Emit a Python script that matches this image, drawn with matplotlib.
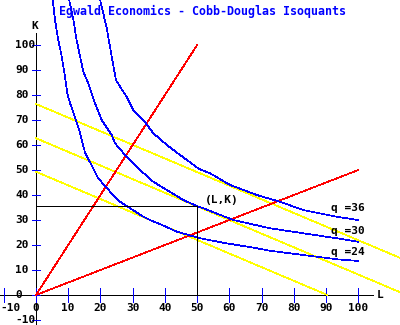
import matplotlib.pyplot as plt

# isoquants, points (L, K)
q24_L = [5.2, 5.9, 6.9, 8.0, 9.0, 9.7, 10.5, 12.4, 13.7, 15.2, 16.8, 19.3, 23.0, 26.1,
         29.2, 33.3, 35.4, 39.3, 43.7, 50.9, 58.1, 68.5, 72.6, 82.9, 93.3, 100]
q24_K = [118, 110, 102, 95.3, 87.3, 80.7, 77, 70, 64.7, 57, 53, 46.7, 41.3, 37.3,
         34.7, 31.3, 30, 27.9, 25.3, 22.7, 20.9, 18.7, 17.7, 16, 14.3, 13.6]

q30_L = [10.3, 11.6, 12.6, 13.9, 14.7, 16.2, 17.8, 18.3, 20.4, 23.5, 24.5, 28.1, 32.3,
         36.4, 40.6, 45.7, 50, 51.9, 61.2, 72.6, 82.9, 93.3, 100]
q30_K = [118, 110, 102, 94, 89.3, 84.7, 78.7, 76.7, 70, 64, 60.7, 55.3, 50,
         45.3, 42, 38, 35.5, 34.7, 30, 26.7, 24.7, 22.7, 21.3]

q36_L = [19.9, 21.9, 23.5, 24.8, 26.1, 28.1, 30.2, 33.3, 36.4, 40.6, 44.7, 50.5, 54,
         60.2, 68.5, 75.7, 82.9, 93.3, 100]
q36_K = [118, 107, 95.3, 86, 83.3, 79.3, 74, 70, 64.7, 60, 56, 50.5, 48.7,
         44, 40, 37.3, 34, 31.3, 30]

isoquants = [(q24_L, q24_K), (q30_L, q30_K), (q36_L, q36_K)]
q_labels = ['q =24', 'q =30', 'q =36']
q_label_K = [17.3, 25.6, 34.9]

# isocost lines: intercepts on K and L axes
cost_K0 = [49.3, 62.7, 76.4]
cost_L0 = [90.4, 115.0, 140.2]

# rays from the origin (end points)
ray_L = [50, 100]
ray_K = [100, 50]

# optimum point
opt_L = 50
opt_K = 35.5

ticks = list(range(-10, 101, 10))

fig = plt.figure(figsize=(4, 3.25), dpi=100)
ax = fig.add_axes([0, 0, 1, 1])
ax.set_xlim(-11.17, 112.94)
ax.set_ylim(-12, 118)
ax.axis('off')

font = dict(family='DejaVu Sans Mono', weight='bold', size=8, color='black')
lw = 0.5

# axes
ax.plot([-11.2, 104.7], [0, 0], color='black', lw=lw, antialiased=False)
ax.plot([0, 0], [-12, 105], color='black', lw=lw, antialiased=False)

# ticks
ax.vlines(ticks, -2.8, 2.8, color='blue', lw=lw, antialiased=False)
ax.hlines(ticks, -1.24, 1.24, color='blue', lw=lw, antialiased=False)
for t in ticks:
    if t == -10:
        ax.text(-11.1, -5.2, str(t), ha='left', va='center', **font)
    else:
        ax.text(t, -5.2, str(t), ha='center', va='center', **font)
    ax.text(-6.5, t, str(t), ha='left', va='center', **font)
ax.text(-0.3, 107.6, 'K', ha='center', va='center', **font)
ax.text(106.7, 0, 'L', ha='center', va='center', **font)

# isocost lines
for k0, l0 in zip(cost_K0, cost_L0):
    ax.plot([0, l0], [k0, 0], color='#ffff00', lw=lw, antialiased=False)

# rays
for l1, k1 in zip(ray_L, ray_K):
    ax.plot([0, l1], [0, k1], color='red', lw=lw, antialiased=False)

# isoquants
for L, K in isoquants:
    ax.plot(L, K, color='blue', lw=lw, antialiased=False)
for lab, ky in zip(q_labels, q_label_K):
    ax.text(91.5, ky, lab, ha='left', va='center', **font)

# optimum box
ax.plot([0, opt_L, opt_L], [opt_K, opt_K, 0], color='black', lw=lw, antialiased=False)
ax.text(52.4, 38, '(L,K)', ha='left', va='center', **font)

fig.text(203 / 400, 1 - 15 / 325, 'Egwald Economics - Cobb-Douglas Isoquants',
         ha='center', va='baseline', family='DejaVu Sans Mono', weight='bold',
         size=8.4, color='blue')

fig.savefig('out.png', dpi=100)
